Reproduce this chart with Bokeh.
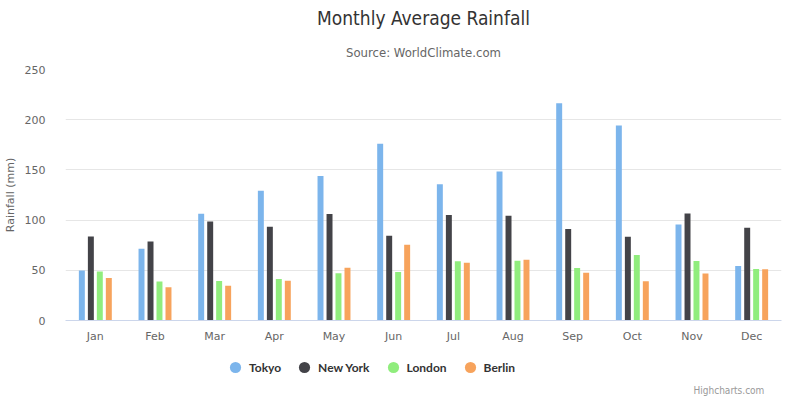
from bokeh.plotting import figure
from bokeh.layouts import column
from bokeh.models import (FactorRange, Range1d, ColumnDataSource, FixedTicker, Title,
                          Legend, LegendItem, Label)
from bokeh.transform import dodge
from bokeh.embed import file_html
from bokeh.resources import INLINE

months = ["Jan", "Feb", "Mar", "Apr", "May", "Jun", "Jul", "Aug", "Sep", "Oct", "Nov", "Dec"]
tokyo = [49.9, 71.5, 106.4, 129.2, 144.0, 176.0, 135.6, 148.5, 216.4, 194.1, 95.6, 54.4]
new_york = [83.6, 78.8, 98.5, 93.4, 106.0, 84.5, 105.0, 104.3, 91.2, 83.5, 106.6, 92.3]
london = [48.9, 38.8, 39.3, 41.4, 47.0, 48.3, 59.0, 59.6, 52.4, 65.2, 59.3, 51.2]
berlin = [42.4, 33.2, 34.5, 39.7, 52.6, 75.5, 57.4, 60.4, 47.6, 39.1, 46.8, 51.1]
series_names = ["Tokyo", "New York", "London", "Berlin"]
colors = ["#7cb5ec", "#434348", "#90ed7d", "#f7a35c"]
y_ticks = [0, 50, 100, 150, 200, 250]

COND = "DejaVu Sans Condensed, Roboto, sans-serif"

src = ColumnDataSource(dict(month=months, Tokyo=tokyo, NY=new_york, London=london, Berlin=berlin))
cols = ["Tokyo", "NY", "London", "Berlin"]
offsets = [-0.226, -0.075, 0.075, 0.226]

# ---- main chart ----
p = figure(frame_width=716, frame_height=251, x_range=FactorRange(*months), y_range=Range1d(0, 250),
           output_backend="svg", toolbar_location=None, title=None,
           min_border_left=56, min_border_right=10, min_border_top=62, min_border_bottom=30)
p.outline_line_color = None

for col, c, off in zip(cols, colors, offsets):
    p.vbar(x=dodge("month", off, range=p.x_range), top=col, width=0.1, source=src,
           fill_color=c, line_color=None)

p.x_range.range_padding = 0
p.xgrid.grid_line_color = None
p.ygrid.grid_line_color = "#e6e6e6"
p.yaxis.ticker = FixedTicker(ticks=y_ticks)
p.yaxis.axis_line_color = None
p.yaxis.major_tick_line_color = None
p.yaxis.minor_tick_line_color = None
p.yaxis.major_label_text_color = "#666666"
p.yaxis.major_label_text_font = "DejaVu Sans"
p.yaxis.major_label_text_font_size = "11px"
p.yaxis.axis_label = "Rainfall (mm)"
p.yaxis.axis_label_text_font = "DejaVu Sans"
p.yaxis.axis_label_text_font_style = "normal"
p.yaxis.axis_label_text_font_size = "11px"
p.yaxis.axis_label_text_color = "#666666"
p.yaxis.major_label_standoff = 14

p.xaxis.axis_line_color = "#ccd6eb"
p.xaxis.major_tick_line_color = None
p.xaxis.minor_tick_line_color = None
p.xaxis.major_label_text_color = "#666666"
p.xaxis.major_label_text_font = "DejaVu Sans"
p.xaxis.major_label_text_font_size = "11px"
p.xaxis.major_label_standoff = 3

p.add_layout(Title(text="Source: WorldClimate.com", align="center", text_font=COND,
                   text_font_size="13px", text_color="#666666", text_font_style="normal",
                   standoff=20), "above")
p.add_layout(Title(text="Monthly Average Rainfall", align="center", text_font=COND,
                   text_font_size="19px", text_color="#333333", text_font_style="normal",
                   standoff=8), "above")

# ---- legend strip ----
q = figure(width=782, height=47, x_range=Range1d(0, 782), y_range=Range1d(0, 47),
           output_backend="svg", toolbar_location=None, title=None,
           min_border_left=0, min_border_right=0, min_border_top=0, min_border_bottom=0)
q.axis.visible = False
q.grid.visible = False
q.outline_line_color = None

items = []
for name, c in zip(series_names, colors):
    r = q.scatter(x=[-100], y=[-100], marker="circle", size=12, fill_color=c, line_color=None)
    items.append(LegendItem(label=name, renderers=[r]))

legend = Legend(items=items, orientation="horizontal", location=(156, 16),
                label_text_font="Lato", label_text_font_style="bold",
                label_text_font_size="12px", label_text_color="#333333",
                border_line_color=None, background_fill_alpha=0,
                glyph_width=28, glyph_height=28, spacing=9, label_standoff=0,
                margin=0, padding=0)
q.add_layout(legend, "center")

q.add_layout(Label(x=773, y=7, text="Highcharts.com", text_align="right", text_baseline="middle",
                   text_font=COND, text_font_size="10px", text_color="#999999"))

open("out.html", "w").write(file_html(column(p, q, spacing=0), INLINE))
